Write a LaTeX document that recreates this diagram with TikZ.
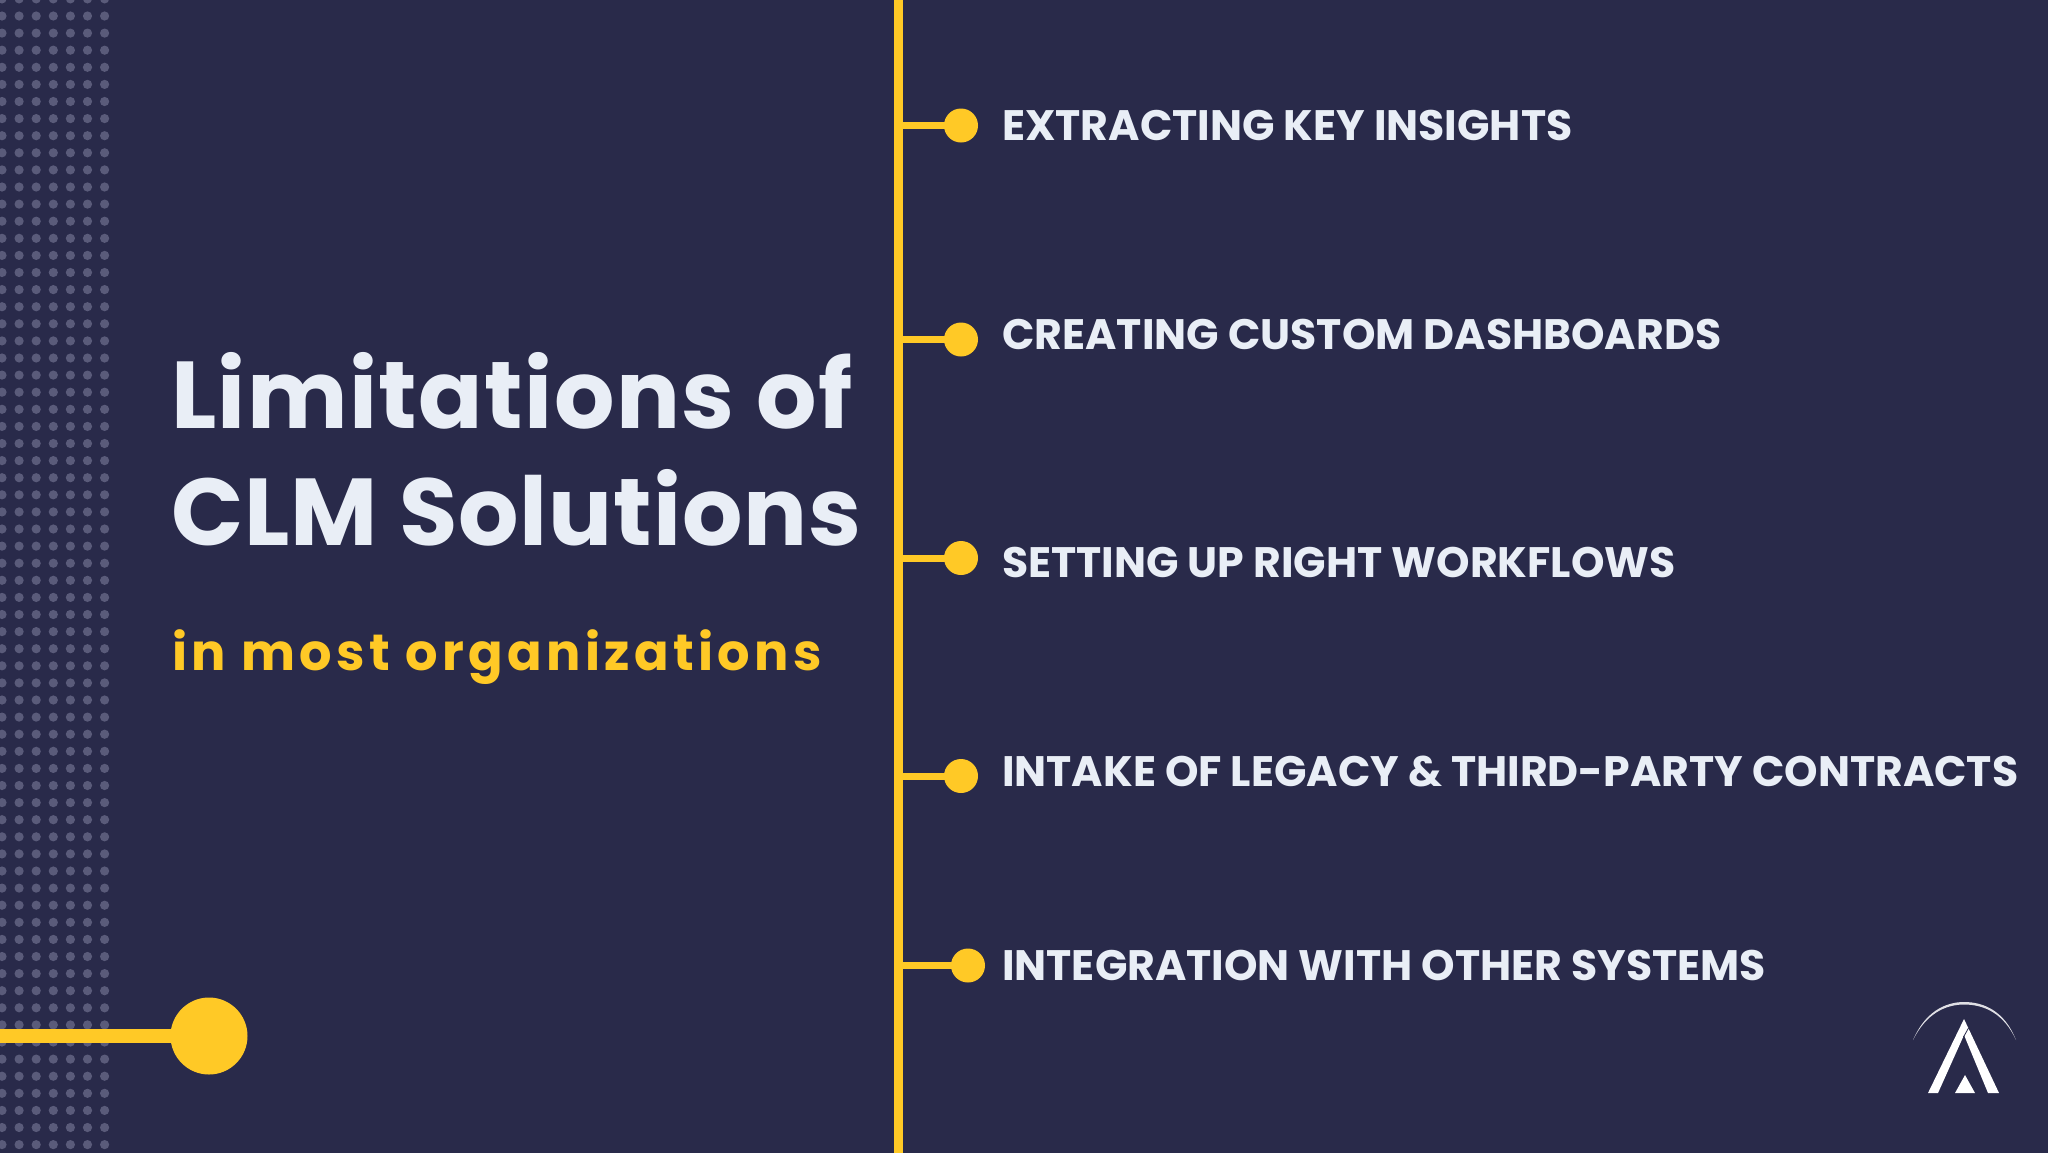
\documentclass[tikz,border=0pt]{standalone}
\usepackage{fontspec}
\setmainfont{Poppins}
\newfontfamily\subfont[LetterSpace=8.6]{Poppins}
\newfontfamily\headfont[LetterSpace=1.5]{Poppins}
\newfontfamily\headfontb[LetterSpace=1.0]{Poppins}
\definecolor{bgnavy}{HTML}{292A4A}
\definecolor{sun}{HTML}{FFC926}
\definecolor{paper}{HTML}{E9EEF6}
\definecolor{speck}{HTML}{5A5B7A}
\tikzset{
  dotnode/.style={circle,fill=sun,inner sep=0pt,minimum size=34pt},
  bignode/.style={circle,fill=sun,inner sep=0pt,minimum size=77pt},
  branch/.style={draw=sun,line width=7pt},
  spine/.style={draw=sun,line width=9pt},
  item/.style={anchor=base west,inner sep=0pt,text=paper,font=\fontsize{42.6}{43}\selectfont\bfseries},
  heading/.style={anchor=base west,inner sep=0pt,text=paper,font=\headfont\fontsize{95}{95}\selectfont\bfseries},
  headingb/.style={anchor=base west,inner sep=0pt,text=paper,font=\headfontb\fontsize{95}{95}\selectfont\bfseries},
  subhead/.style={anchor=base west,inner sep=0pt,text=sun,font=\subfont\fontsize{51}{51}\selectfont\bfseries},
}
\begin{document}
\begin{tikzpicture}[x=1pt,y=-1pt]
\useasboundingbox (0,0) rectangle (2048,1152);
\fill[bgnavy] (-3,-3) rectangle (2051,1155);
% dotted band
\foreach \i in {0,...,6}{\foreach \j in {-1,...,66}{
  \fill[speck] ({2+17.1*\i},{16+17.1*\j}) circle (4.6pt);
}}
% left marker
\coordinate (edge) at (-2,1036);
\node[bignode] (big) at (209,1036) {};
\draw[sun,line width=14pt] (edge) -- (big.center);
% spine
\coordinate (top) at (898.5,-2);
\coordinate (bot) at (898.5,1154);
\draw[spine] (top) -- (bot);
% items
\foreach \n/\yy/\xx in {a/125.5/961,b/339.5/961,c/558/961,d/776/961,e/965.5/968}{
  \coordinate (s\n) at (898.5,\yy);
  \node[dotnode] (d\n) at (\xx,\yy) {};
  \draw[branch] (s\n) -- (d\n.center);
}
\node[item] (ta) at (1002,140) {EXTRACTING KEY INSIGHTS};
\node[item] (tb) at (1002,349) {CREATING CUSTOM DASHBOARDS};
\node[item] (tc) at (1002,577) {SETTING UP RIGHT WORKFLOWS};
\node[item] (td) at (1002,786.5) {INTAKE OF LEGACY \& THIRD-PARTY CONTRACTS};
\node[item] (te) at (1002,980) {INTEGRATION WITH OTHER SYSTEMS};
% title
\node[heading] (t1) at (171,428) {Limitations of};
\node[headingb] (t2) at (171,545) {CLM Solutions};
\node[subhead] (t3) at (172,670) {in most organizations};
% logo
\fill[white] (1928,1093) -- (1964,1019) -- (1999,1093) -- (1988,1093) -- (1964,1035) -- (1938,1093) -- cycle;
\draw[bgnavy,line width=0.8pt] (1968.5,1028) -- (1963.5,1037);
\fill[white] (1965,1075) -- (1975,1093) -- (1955,1093) -- cycle;
\fill[white!85!bgnavy] (1913,1040) .. controls (1925,1012) and (1945,1002) .. (1964,1002)
   .. controls (1985,1002) and (2005,1012) .. (2016,1040)
   .. controls (2004,1014) and (1985,1004.5) .. (1964,1004.5)
   .. controls (1945,1004.5) and (1926,1014) .. (1913,1040) -- cycle;
\end{tikzpicture}
\end{document}
